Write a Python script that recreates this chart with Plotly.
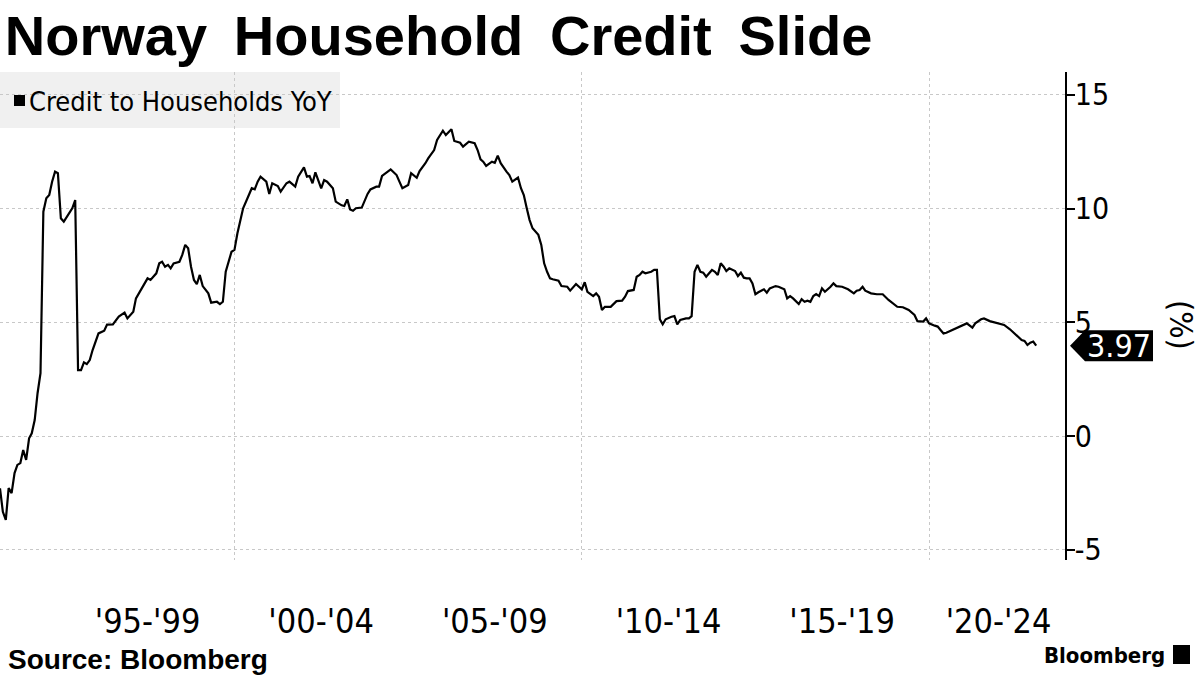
import plotly.graph_objects as go

dates = [
    "1993-04", "1993-05", "1993-06", "1993-07", "1993-08", "1993-09", "1993-10", "1993-11", "1993-12",
    "1994-01", "1994-02", "1994-03", "1994-04", "1994-05", "1994-06", "1994-07", "1994-08", "1994-09",
    "1994-10", "1994-11", "1994-12", "1995-01", "1995-02", "1995-04", "1995-05", "1995-06", "1995-07",
    "1995-08", "1995-09", "1995-10", "1995-11", "1995-12", "1996-02", "1996-04", "1996-05", "1996-07",
    "1996-08", "1996-09", "1996-11", "1996-12", "1997-02", "1997-03", "1997-05", "1997-07", "1997-08",
    "1997-10", "1997-11", "1997-12", "1998-01", "1998-02", "1998-03", "1998-04", "1998-06", "1998-07",
    "1998-08", "1998-09", "1998-10", "1998-11", "1998-12", "1999-01", "1999-02", "1999-04", "1999-05",
    "1999-07", "1999-08", "1999-09", "1999-10", "1999-12", "2000-01", "2000-02", "2000-04", "2000-06",
    "2000-07", "2000-08", "2000-09", "2000-10", "2000-12", "2001-01", "2001-02", "2001-04", "2001-05",
    "2001-07", "2001-08", "2001-10", "2001-11", "2002-01", "2002-02", "2002-03", "2002-04", "2002-05",
    "2002-06", "2002-07", "2002-08", "2002-09", "2002-11", "2002-12", "2003-02", "2003-03", "2003-04",
    "2003-05", "2003-06", "2003-07", "2003-09", "2003-11", "2003-12", "2004-02", "2004-03", "2004-04",
    "2004-07", "2004-09", "2004-10", "2004-11", "2005-01", "2005-02", "2005-04", "2005-05", "2005-07",
    "2005-08", "2005-10", "2005-11", "2006-01", "2006-02", "2006-04", "2006-05", "2006-07", "2006-08",
    "2006-10", "2006-12", "2007-01", "2007-02", "2007-03", "2007-04", "2007-06", "2007-07", "2007-08",
    "2007-09", "2007-11", "2007-12", "2008-01", "2008-03", "2008-04", "2008-05", "2008-06", "2008-07",
    "2008-08", "2008-10", "2008-11", "2008-12", "2009-01", "2009-02", "2009-03", "2009-05", "2009-06",
    "2009-08", "2009-09", "2009-11", "2010-01", "2010-02", "2010-03", "2010-05", "2010-06", "2010-07",
    "2010-08", "2010-09", "2010-11", "2010-12", "2011-01", "2011-03", "2011-04", "2011-05", "2011-07",
    "2011-08", "2011-09", "2011-10", "2011-11", "2012-01", "2012-02", "2012-03", "2012-04", "2012-05",
    "2012-06", "2012-08", "2012-09", "2012-10", "2012-11", "2013-01", "2013-02", "2013-03", "2013-04",
    "2013-05", "2013-06", "2013-07", "2013-08", "2013-09", "2013-10", "2013-11", "2013-12", "2014-01",
    "2014-02", "2014-03", "2014-04", "2014-06", "2014-07", "2014-08", "2014-09", "2014-10", "2014-11",
    "2014-12", "2015-01", "2015-02", "2015-04", "2015-05", "2015-06", "2015-08", "2015-09", "2015-11",
    "2015-12", "2016-01", "2016-02", "2016-04", "2016-05", "2016-06", "2016-07", "2016-08", "2016-09",
    "2016-10", "2016-11", "2016-12", "2017-01", "2017-03", "2017-04", "2017-05", "2017-07", "2017-09",
    "2017-11", "2017-12", "2018-01", "2018-02", "2018-03", "2018-05", "2018-07", "2018-09", "2018-11",
    "2019-02", "2019-04", "2019-06", "2019-08", "2019-09", "2019-11", "2019-12", "2020-01", "2020-03",
    "2020-04", "2020-05", "2020-06", "2020-07", "2020-09", "2020-11", "2020-12", "2021-02", "2021-04",
    "2021-05", "2021-07", "2021-08", "2021-10", "2021-12", "2022-02", "2022-03", "2022-05", "2022-07",
    "2022-09", "2022-10", "2022-11", "2022-12", "2023-01", "2023-02",
]

values = [
    -2.30, -3.33, -3.69, -2.29, -2.51, -1.63, -1.27, -1.19, -0.62,
    -1.05, -0.10, 0.12, 0.70, 1.88, 2.76, 9.86, 10.45, 10.59,
    11.18, 11.62, 11.55, 9.57, 9.42, 9.82, 10.01, 10.37, 2.90,
    2.90, 3.24, 3.16, 3.34, 3.78, 4.51, 4.63, 4.90, 4.91,
    5.10, 5.25, 5.42, 5.17, 5.46, 6.05, 6.49, 6.93, 6.86,
    7.15, 7.59, 7.66, 7.44, 7.52, 7.37, 7.59, 7.66, 7.96,
    8.40, 8.25, 7.44, 6.86, 6.67, 7.08, 6.59, 6.27, 5.86,
    5.90, 5.80, 5.90, 7.22, 8.10, 8.18, 8.91, 10.01, 10.59,
    10.89, 10.84, 11.18, 11.40, 11.18, 10.64, 11.11, 10.99, 10.74,
    11.11, 11.18, 10.96, 11.40, 11.81, 11.40, 11.43, 11.11, 11.59,
    11.25, 10.89, 11.25, 11.18, 10.89, 10.30, 10.14, 10.11, 10.40,
    9.96, 9.90, 10.01, 10.04, 10.64, 10.84, 10.96, 10.96, 11.43,
    11.72, 11.47, 11.18, 10.89, 11.03, 11.55, 11.35, 11.65, 11.99,
    12.21, 12.57, 13.01, 13.42, 13.23, 13.48, 12.97, 12.89, 12.72,
    12.94, 12.87, 12.57, 12.16, 12.06, 11.87, 12.06, 12.01, 12.32,
    11.99, 11.62, 11.47, 11.18, 11.36, 10.89, 10.59, 10.01, 9.49,
    9.13, 8.84, 8.40, 7.59, 7.22, 6.93, 6.89, 6.83, 6.59,
    6.56, 6.39, 6.68, 6.45, 6.76, 6.34, 6.15, 6.27, 6.12,
    5.54, 5.68, 5.68, 5.80, 5.93, 5.95, 6.12, 6.37, 6.42,
    7.00, 7.08, 7.22, 7.15, 7.22, 7.30, 7.30, 5.13, 4.91,
    5.13, 5.24, 5.27, 4.91, 5.10, 5.17, 5.17, 5.27, 7.22,
    7.52, 7.22, 7.18, 7.00, 7.15, 7.30, 7.22, 7.08, 7.59,
    7.44, 7.25, 7.37, 7.25, 7.03, 7.18, 6.96, 6.93, 6.93,
    6.71, 6.23, 6.32, 6.45, 6.30, 6.49, 6.59, 6.56, 6.45,
    6.05, 6.15, 6.05, 5.80, 6.01, 5.90, 5.95, 5.90, 6.15,
    6.24, 6.15, 6.49, 6.34, 6.56, 6.71, 6.59, 6.56, 6.45,
    6.27, 6.39, 6.42, 6.56, 6.39, 6.27, 6.23, 6.23, 5.98,
    5.68, 5.66, 5.54, 5.32, 5.05, 5.03, 5.17, 4.95, 4.85,
    4.81, 4.66, 4.51, 4.54, 4.66, 4.76, 4.85, 4.95, 4.76,
    4.95, 5.13, 5.17, 5.05, 4.98, 4.88, 4.88, 4.69, 4.44,
    4.22, 4.18, 4.00, 4.10, 4.15, 3.97,
]

series_name = "Credit to Households YoY"
x_label_pos = ["1997-07-01", "2002-07-01", "2007-07-01", "2012-07-01", "2017-07-01", "2022-01-01"]
x_label_text = ["'95-'99", "'00-'04", "'05-'09", "'10-'14", "'15-'19", "'20-'24"]
x_grid = ["2000-01-01", "2010-01-01", "2020-01-01"]
y_ticks = [-5, 0, 5, 10, 15]
y_tick_text = ["-5", "0", "5", "10", "15"]
x_range = ["1993-04-01", "2023-12-01"]
y_range = [-5.45, 16.0]

NARROW = "Liberation Sans Narrow, DejaVu Sans Condensed, Arial Narrow, Liberation Sans, sans-serif"
BOLD = "Liberation Sans, Arial, sans-serif"

fig = go.Figure()
fig.add_trace(go.Scatter(
    x=dates, y=values, mode="lines", name=series_name,
    line=dict(color="black", width=2.2), showlegend=False, hoverinfo="skip",
))

# legend box
fig.add_shape(type="rect", xref="paper", yref="paper", x0=0, x1=340 / 1065, y0=1 - 56 / 488, y1=1,
              fillcolor="#f0f0f0", line=dict(width=0), layer="below")
fig.add_shape(type="rect", xref="paper", yref="paper", x0=14 / 1065, x1=25 / 1065,
              y0=1 - 34 / 488, y1=1 - 23 / 488, fillcolor="black", line=dict(width=0))
fig.add_annotation(xref="paper", yref="paper", x=27 / 1065, y=1 - 29 / 488, xanchor="left", yanchor="middle",
                   text=series_name, showarrow=False,
                   font=dict(family=NARROW, size=27, color="black"))

# last value tag
last = values[-1]
h = 0.68
xl, xb, xr = 1 + 5 / 1065, 1 + 20 / 1065, 1 + 88 / 1065
fig.add_shape(type="path", xref="paper", yref="y",
              path=f"M {xl} {last} L {xb} {last + h} L {xr} {last + h} L {xr} {last - h} L {xb} {last - h} Z",
              fillcolor="black", line=dict(width=0))
fig.add_annotation(xref="paper", yref="y", x=(xb + xr) / 2, y=last, text=f"{last:.2f}", showarrow=False,
                   xanchor="center", yanchor="middle", font=dict(family=NARROW, size=32, color="white"))

# (%) axis title
fig.add_annotation(xref="paper", yref="paper", x=1181 / 1065, y=(560 - 325) / 488, text="(%)", textangle=90,
                   showarrow=False, xanchor="center", yanchor="middle",
                   font=dict(family=NARROW, size=32, color="black"))

# footer
fig.add_annotation(xref="paper", yref="paper", x=6 / 1065, y=(560 - 659) / 488, text="<b>Source: Bloomberg</b>",
                   showarrow=False, xanchor="left", yanchor="middle",
                   font=dict(family=BOLD, size=28, color="black"))
fig.add_annotation(xref="paper", yref="paper", x=1167 / 1065, y=(560 - 655) / 488, text="<b>Bloomberg</b>",
                   showarrow=False, xanchor="right", yanchor="middle",
                   font=dict(family=NARROW, size=22, color="black"))
fig.add_shape(type="rect", xref="paper", yref="paper", x0=1173 / 1065, x1=1190 / 1065,
              y0=(560 - 664) / 488, y1=(560 - 645) / 488, fillcolor="black", line=dict(width=0))

fig.update_layout(
    width=1200, height=675,
    margin=dict(l=0, r=135, t=72, b=115),
    paper_bgcolor="white", plot_bgcolor="white",
    title=dict(text="<b>Norway \u2009Household \u2009Credit \u2009Slide</b>", x=0.004, xanchor="left",
               xref="container", y=1 - 35 / 675, yref="container", yanchor="middle",
               font=dict(family=BOLD, size=56, color="black")),
    xaxis=dict(
        type="date", range=x_range, tickmode="array", tickvals=x_label_pos, ticktext=x_label_text,
        showgrid=False, ticks="", showline=False, zeroline=False, ticklabelstandoff=38,
        tickfont=dict(family=NARROW, size=34, color="black"),
        minor=dict(tickmode="array", tickvals=x_grid, showgrid=True, gridcolor="#c8c8c8",
                   griddash="dot", gridwidth=1, ticks=""),
    ),
    yaxis=dict(
        side="right", range=y_range, tickmode="array", tickvals=y_ticks, ticktext=y_tick_text,
        showgrid=True, gridcolor="#c8c8c8", griddash="dot", gridwidth=1, zeroline=False,
        showline=True, linecolor="black", linewidth=1.5, ticks="outside", ticklen=8, tickcolor="black",
        tickwidth=1.5, ticklabelstandoff=-6, tickfont=dict(family=NARROW, size=30, color="black"),
    ),
)

fig.write_html("out.html", config={"displayModeBar": False},
               post_script="document.body.style.margin='0';document.body.style.overflow='hidden';")
